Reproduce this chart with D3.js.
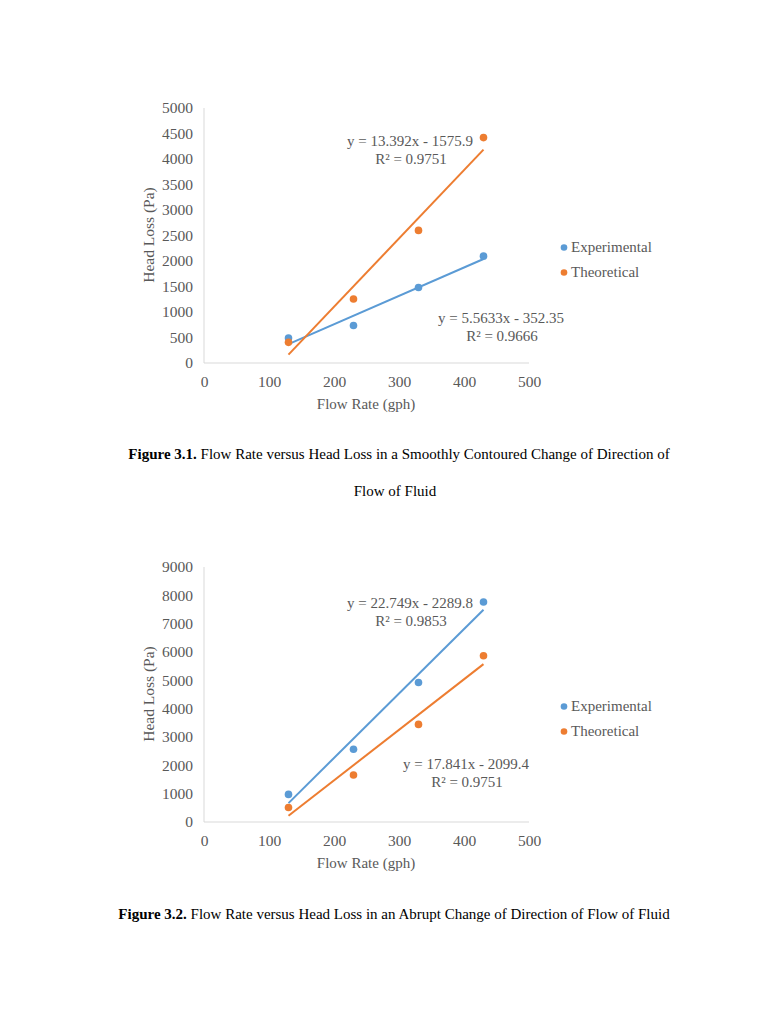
<!DOCTYPE html>
<html><head><meta charset="utf-8">
<script src="https://cdn.jsdelivr.net/npm/d3@7"></script>
<style>body{margin:0;background:#fff}svg{display:block}</style>
</head><body>
<script>
const flowRates = [130, 230, 330, 430];
const chart1Experimental = [490, 735, 1480, 2095];
const chart1Theoretical = [405, 1255, 2600, 4420];
const chart2Experimental = [975, 2570, 4925, 7765];
const chart2Theoretical = [510, 1660, 3445, 5870];
const seriesNames = ["Experimental", "Theoretical"];
const chart1Fits = [{m: 5.5633, b: -352.35, eq: "y = 5.5633x - 352.35", r2: "R² = 0.9666"},
                    {m: 13.392, b: -1575.9, eq: "y = 13.392x - 1575.9", r2: "R² = 0.9751"}];
const chart2Fits = [{m: 22.749, b: -2289.8, eq: "y = 22.749x - 2289.8", r2: "R² = 0.9853"},
                    {m: 17.841, b: -2099.4, eq: "y = 17.841x - 2099.4", r2: "R² = 0.9751"}];
const xTicks = [0, 100, 200, 300, 400, 500];
const yTicks1 = [0, 500, 1000, 1500, 2000, 2500, 3000, 3500, 4000, 4500, 5000];
const yTicks2 = [0, 1000, 2000, 3000, 4000, 5000, 6000, 7000, 8000, 9000];
const colors = ["#5B9BD5", "#ED7D31"];

const svg = d3.select("body").append("svg").attr("width", 768).attr("height", 1024);
const font = "'Liberation Serif', 'Times New Roman', serif";
const gray = "#595959";

function chart(top, yMax, yTicks, exp, theo, fits, labelPos) {
  const x = d3.scaleLinear().domain([0, 500]).range([204, 529]);
  const y = d3.scaleLinear().domain([0, yMax]).range([top + 255, top]);
  const g = svg.append("g");
  g.append("line").attr("x1", 204).attr("x2", 204).attr("y1", y(yMax)).attr("y2", y(0)).attr("stroke", "#d9d9d9").attr("stroke-width", 1);
  g.append("line").attr("x1", 204).attr("x2", 529).attr("y1", y(0)).attr("y2", y(0)).attr("stroke", "#d9d9d9").attr("stroke-width", 1);
  const yAxis = d3.axisLeft(y).tickValues(yTicks).tickSize(0).tickPadding(11).tickFormat(d3.format("d"));
  const ya = g.append("g").attr("transform", "translate(204,0)").call(yAxis);
  ya.select(".domain").remove();
  ya.selectAll("text").attr("font-family", font).attr("font-size", 15.5).attr("fill", gray);
  const xAxis = d3.axisBottom(x).tickValues(xTicks).tickSize(0).tickPadding(13).tickFormat(d3.format("d"));
  const xa = g.append("g").attr("transform", `translate(0,${y(0)})`).call(xAxis);
  xa.select(".domain").remove();
  xa.selectAll("text").attr("font-family", font).attr("font-size", 15.5).attr("fill", gray);
  g.append("text").attr("x", 366).attr("y", y(0) + 46).attr("text-anchor", "middle")
    .attr("font-family", font).attr("font-size", 15).attr("fill", gray).text("Flow Rate (gph)");
  g.append("text").attr("transform", `translate(154,${top + 127}) rotate(-90)`).attr("text-anchor", "middle")
    .attr("font-family", font).attr("font-size", 15.5).attr("fill", gray).text("Head Loss (Pa)");
  [exp, theo].forEach((vals, i) => {
    const f = fits[i];
    const x0 = d3.min(flowRates), x1 = d3.max(flowRates);
    g.append("line").attr("x1", x(x0)).attr("y1", y(f.m * x0 + f.b)).attr("x2", x(x1)).attr("y2", y(f.m * x1 + f.b))
      .attr("stroke", colors[i]).attr("stroke-width", 2);
  });
  [exp, theo].forEach((vals, i) => {
    g.selectAll(null).data(vals).enter().append("circle")
      .attr("cx", (d, j) => x(flowRates[j])).attr("cy", d => y(d)).attr("r", 3.8).attr("fill", colors[i]);
  });
  fits.forEach((f, i) => {
    const p = labelPos[i];
    g.append("text").attr("x", p[0]).attr("y", p[1]).attr("text-anchor", "middle")
      .attr("font-family", font).attr("font-size", 15).attr("fill", gray).text(f.eq);
    g.append("text").attr("x", p[0] + 1).attr("y", p[1] + 18).attr("text-anchor", "middle")
      .attr("font-family", font).attr("font-size", 15).attr("fill", gray).text(f.r2);
  });
  seriesNames.forEach((n, i) => {
    const ly = top + 144 + i * 25;
    g.append("circle").attr("cx", 564).attr("cy", ly - 4.5).attr("r", 3.3).attr("fill", colors[i]);
    g.append("text").attr("x", 571).attr("y", ly).attr("font-family", font).attr("font-size", 15).attr("fill", gray).text(n);
  });
}

chart(108, 5000, yTicks1, chart1Experimental, chart1Theoretical, chart1Fits, [[501, 323], [410, 146]]);
chart(567, 9000, yTicks2, chart2Experimental, chart2Theoretical, chart2Fits, [[410, 608], [466, 769]]);

function caption(xPos, yPos, anchor, bold, rest) {
  const t = svg.append("text").attr("x", xPos).attr("y", yPos).attr("text-anchor", anchor)
    .attr("font-family", font).attr("font-size", 15).attr("fill", "#000");
  if (bold) t.append("tspan").attr("font-weight", "bold").text(bold);
  t.append("tspan").text(rest);
}
caption(399, 459, "middle", "Figure 3.1.", " Flow Rate versus Head Loss in a Smoothly Contoured Change of Direction of");
caption(395, 496, "middle", null, "Flow of Fluid");
caption(394, 919, "middle", "Figure 3.2.", " Flow Rate versus Head Loss in an Abrupt Change of Direction of Flow of Fluid");
</script>
</body></html>
